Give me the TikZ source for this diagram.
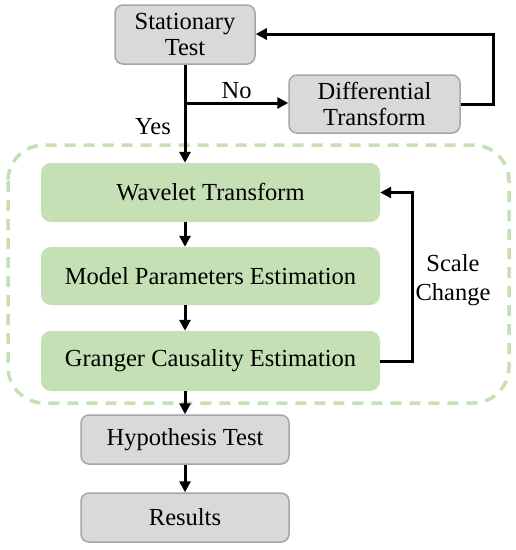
\documentclass[tikz,border=0pt]{standalone}
\usepackage{fontspec}
\setmainfont{Liberation Serif}
\usetikzlibrary{arrows.meta,calc}
\definecolor{grayfill}{HTML}{D9D9D9}
\definecolor{grayline}{HTML}{A6A6A6}
\definecolor{greenfill}{HTML}{C5E0B4}
\definecolor{greendash}{HTML}{C5E0B4}
\begin{document}
\begin{tikzpicture}[x=1pt,y=-1pt,
  font=\fontsize{24.5}{26}\selectfont,
  graybox/.style={draw=grayline,line width=1.5pt,fill=grayfill,rounded corners=8pt,align=center,inner sep=0pt},
  greenbox/.style={fill=greenfill,rounded corners=10pt,align=center,inner sep=0pt,minimum width=339pt},
  arr/.style={line width=3pt,-{Triangle[length=11pt,width=11pt]}},
  lin/.style={line width=3pt}]
\useasboundingbox (0,0) rectangle (516,550);
\fill[white] (0,0) rectangle (516,550);
\draw[greendash,line width=3.5pt,dash pattern=on 11pt off 8pt,rounded corners=36pt] (8,145) rectangle (509,403);
\node[graybox,minimum width=140pt,minimum height=59pt] (st) at (185,34.5) {Stationary\\Test};
\node[graybox,minimum width=171pt,minimum height=58pt] (dt) at (374.5,104) {Differential\\Transform};
\node[greenbox,minimum height=59pt] (wt) at (210.5,192.5) {Wavelet Transform};
\node[greenbox,minimum height=58pt] (mp) at (210.5,276) {Model Parameters Estimation};
\node[greenbox,minimum height=60pt] (gc) at (210.5,361) {Granger Causality Estimation};
\node[graybox,minimum width=208pt,minimum height=49pt] (ht) at (185,439.5) {Hypothesis Test};
\node[graybox,minimum width=208pt,minimum height=49pt] (rs) at (185,517.5) {Results};
\coordinate (br) at (185,103);
\draw[arr] (st.south) -- (st.south |- wt.north);
\draw[arr] (br) -- (dt.west |- br) node[midway,above,yshift=-1pt] {No};
\node (yes) at (153,127) {Yes};
\draw[arr] (dt.east) -- ++(33,0) |- ([yshift=0.5pt]st.east);
\draw[arr] (st.south |- wt.south) -- (st.south |- mp.north);
\draw[arr] (st.south |- mp.south) -- (st.south |- gc.north);
\draw[arr] (st.south |- gc.south) -- (ht.north);
\draw[arr] (ht.south) -- (rs.north);
\draw[arr] (gc.east) -- ++(32,0) |- (wt.east);
\node[align=center,font=\fontsize{24.5}{29}\selectfont] (sc) at (453,280) {Scale\\Change};
\end{tikzpicture}
\end{document}
